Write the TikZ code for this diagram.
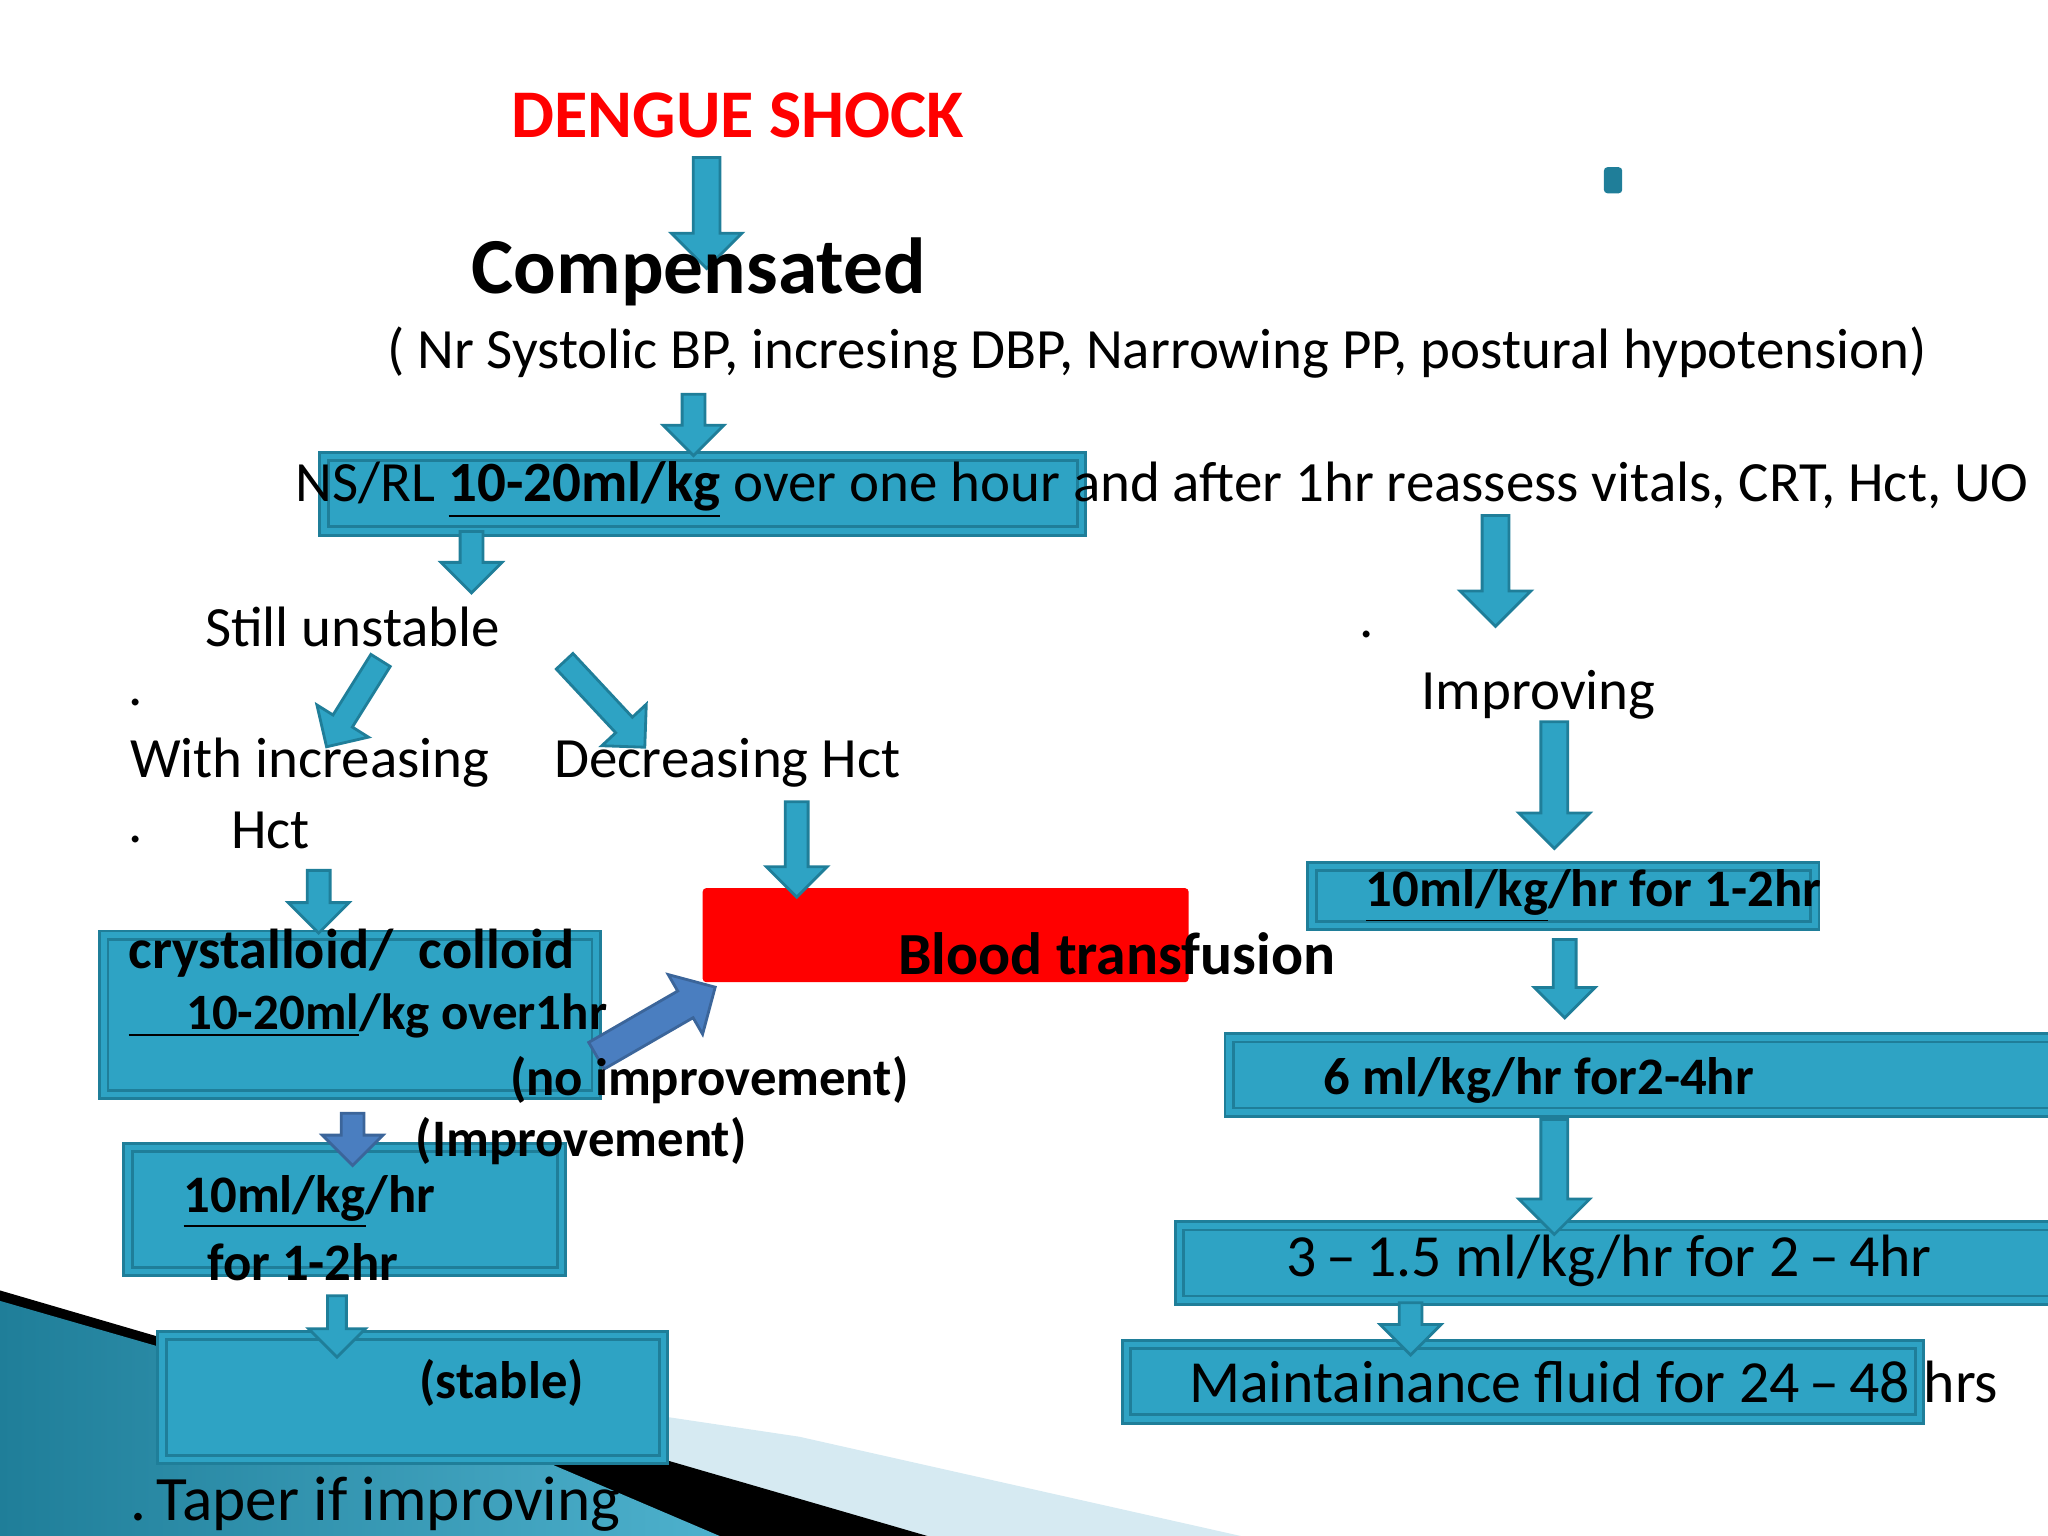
\documentclass[tikz,border=0pt]{standalone}
\usepackage{fontspec}
\setmainfont{Carlito}
\usetikzlibrary{positioning, shapes.arrows}
\definecolor{boxteal}{HTML}{2EA3C4}
\definecolor{boxedge}{HTML}{1F7E99}
\definecolor{steel}{HTML}{4A7EC0}
\definecolor{paleblue}{HTML}{D6EAF2}
\def\u{0.013061cm}
\tikzset{
  box/.style={rectangle, fill=boxteal, draw=boxedge, double=boxteal, double distance=1.6pt, line width=0.8pt, inner sep=0pt},
  dnarrow/.style={single arrow, rotate=-90, fill=boxteal, draw=boxedge, line width=0.8pt,
    single arrow head extend=1.9mm, inner sep=1mm},
  txt/.style={inner sep=0pt, font=\fontsize{16.2}{19}\selectfont},
  bold/.style={inner sep=0pt, font=\fontsize{15}{18}\selectfont\bfseries}
}
\begin{document}
\begin{tikzpicture}[x=\u, y=-\u]
\useasboundingbox (0,0) rectangle (1568,1176);
% background swoosh
\fill[paleblue] (130,1028) -- (612,1100) -- (950,1176) -- (0,1176) -- cycle;
\fill[black] (0,988) -- (130,1026) -- (500,1115) -- (710,1176) -- (0,1176) -- cycle;
\fill[left color=boxedge, right color=boxteal!85!white] (0,996) -- (125,1032) -- (415,1118) -- (551,1176) -- (0,1176) -- cycle;
\fill[boxedge, rounded corners=1pt] (1228,128) rectangle (1242,148);

% boxes
\node[box, minimum width={580*\u}, minimum height={57*\u}] (nsbox) at (538,378) {};
\node[box, minimum width={377*\u}, minimum height={122*\u}] (cbox) at (268,777) {};
\node[fill=red, minimum width={372*\u}, minimum height={72*\u}, inner sep=0pt, rounded corners=1pt] (redbox) at (724,716) {};
\node[box, minimum width={332*\u}, minimum height={95*\u}] (hbox) at (264,926) {};
\node[box, minimum width={384*\u}, minimum height={95*\u}] (sbox) at (316,1070) {};
\node[box, minimum width={385*\u}, minimum height={45*\u}] (r1box) at (1197,686) {};
\node[box, minimum width={640*\u}, minimum height={57*\u}, anchor=west] (r2box) at (940,823) {};
\node[box, minimum width={680*\u}, minimum height={57*\u}, anchor=west] (r3box) at (902,967) {};
\node[box, minimum width={607*\u}, minimum height={57*\u}] (r4box) at (1166,1058) {};

% block arrows
\node[dnarrow, minimum height={85*\u}, inner sep=1.2mm, single arrow head extend=2.2mm] (a1) at (541,158) {};
\node[dnarrow, minimum height={47*\u}] (a2) at (531,321) {};
\node[dnarrow, minimum height={47*\u}] (a3) at (361,426) {};
\node[dnarrow, minimum height={78*\u}, rotate=-32] (a4) at (273,535) {};
\node[dnarrow, minimum height={90*\u}, rotate=43] (a5) at (460,536) {};
\node[dnarrow, minimum height={73*\u}] (a6) at (610,646) {};
\node[dnarrow, minimum height={48*\u}] (a7) at (244,686) {};
\node[dnarrow, fill=steel, draw=steel!80!black, minimum height={105*\u}, inner sep=1.4mm, rotate=120] (a8) at (497,785) {};
\node[dnarrow, fill=steel, draw=steel!80!black, minimum height={40*\u}] (a9) at (270,868) {};
\node[dnarrow, minimum height={47*\u}, inner sep=0.8mm] (a10) at (258,1012) {};
\node[dnarrow, minimum height={85*\u}, inner sep=1.2mm, single arrow head extend=2.2mm] (a11) at (1145,432) {};
\node[dnarrow, minimum height={97*\u}, inner sep=1.2mm, single arrow head extend=2.2mm] (a12) at (1190,596) {};
\node[dnarrow, minimum height={60*\u}] (a13) at (1198,745) {};
\node[dnarrow, minimum height={88*\u}, inner sep=1.2mm, single arrow head extend=2.2mm] (a14) at (1190,896) {};
\node[dnarrow, minimum height={40*\u}] (a15) at (1080,1013) {};

% titles
\node[inner sep=0pt, text=red, font=\fontsize{19.4}{22}\selectfont\bfseries] (shock) at (565,88) {DENGUE SHOCK};
\node[inner sep=0pt, font=\fontsize{22.6}{26}\selectfont\bfseries] (comp) at (535,208) {Compensated};
\node[txt, anchor=west] (signs) at (296,270) {( Nr Systolic BP, incresing DBP, Narrowing PP, postural hypotension)};
\node[txt, anchor=west] (ns) at (226,375) {NS/RL \textbf{\underline{10-20ml/kg}} over one hour and after 1hr reassess vitals, CRT, Hct, UO};

% left branch
\node[txt] (unstable) at (270,480) {Still unstable};
\node[txt] (dot1) at (104,538) {.};
\node[txt, anchor=west] (incr) at (99,584) {With increasing};
\node[txt] (dot2) at (104,643) {.};
\node[txt] (hct) at (207,636) {Hct};
\node[txt, anchor=west] (decr) at (424,584) {Decreasing Hct};
\node[bold, anchor=west, font=\fontsize{16}{19}\selectfont\bfseries] (cryst) at (98,730) {crystalloid/ \ colloid};
\node[bold, anchor=west, font=\fontsize{14.5}{18}\selectfont\bfseries] (dose) at (98,778) {\underline{\ \ \ \ \ 10-20ml}/kg over1hr};
\node[bold, font=\fontsize{17}{20}\selectfont\bfseries] (blood) at (855,730) {Blood transfusion};
\node[bold] (noimp) at (543,827) {(no improvement)};
\node[bold] (imp) at (445,874) {(Improvement)};
\node[bold] (hr1) at (237,920) {\underline{10ml/kg}/hr};
\node[bold] (hr2) at (232,966) {for 1-2hr};
\node[bold] (stable) at (384,1059) {(stable)};
\node[inner sep=0pt, anchor=west, font=\fontsize{18}{21}\selectfont] (taper) at (99,1152) {.\,Taper if improving};

% right branch
\node[txt] (dot3) at (1046,486) {.};
\node[txt] (improving) at (1178,532) {Improving};
\node[bold] (r1) at (1220,686) {\underline{10ml/kg}/hr for 1-2hr};
\node[bold, anchor=west] (r2) at (1013,827) {6 ml/kg/hr for2-4hr};
\node[inner sep=0pt, font=\fontsize{17}{20}\selectfont] (r3) at (1232,965) {3\,–\,1.5 ml/kg/hr for 2\,–\,4hr};
\node[txt, anchor=west, font=\fontsize{17}{20}\selectfont] (r4) at (910,1058) {Maintainance fluid for 24\,–\,48 hrs};
\end{tikzpicture}
\end{document}
